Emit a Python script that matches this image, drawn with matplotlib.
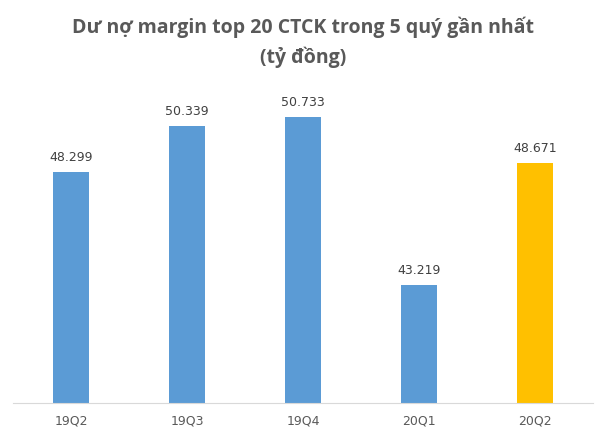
import matplotlib
matplotlib.use("Agg")
import matplotlib.pyplot as plt

categories = ["19Q2", "19Q3", "19Q4", "20Q1", "20Q2"]
values = [48.299, 50.339, 50.733, 43.219, 48.671]
labels = ["48.299", "50.339", "50.733", "43.219", "48.671"]
colors = ["#5B9BD5"] * 4 + ["#FFC000"]

fig = plt.figure(figsize=(6.07, 4.43), dpi=100)
ax = fig.add_axes([13/607, 1 - 403/443, 580/607, 323/443])
x = range(len(categories))
bars = ax.bar(x, values, width=0.31, color=colors)
ax.set_ylim(37.94, 52.4)
ax.set_xlim(-0.5, 4.5)
for xi, v, l in zip(x, values, labels):
    ax.text(xi, v + 0.35, l, ha="center", va="bottom", fontsize=9, color="#404040")
ax.set_xticks(list(x))
ax.set_xticklabels(categories, fontsize=9, color="#595959")
ax.tick_params(axis="x", length=0, pad=8)
ax.set_yticks([])
for s in ["top", "right", "left"]:
    ax.spines[s].set_visible(False)
ax.spines["bottom"].set_color("#D9D9D9")
fig.text(0.5, 1 - 27/443, "Dư nợ margin top 20 CTCK trong 5 quý gần nhất", ha="center", va="center",
         fontsize=14, fontweight="bold", color="#595959", family="Open Sans")
fig.text(0.5, 1 - 57/443, "(tỷ đồng)", ha="center", va="center",
         fontsize=14, fontweight="bold", color="#595959", family="Open Sans")
fig.savefig("out.png", dpi=100)
